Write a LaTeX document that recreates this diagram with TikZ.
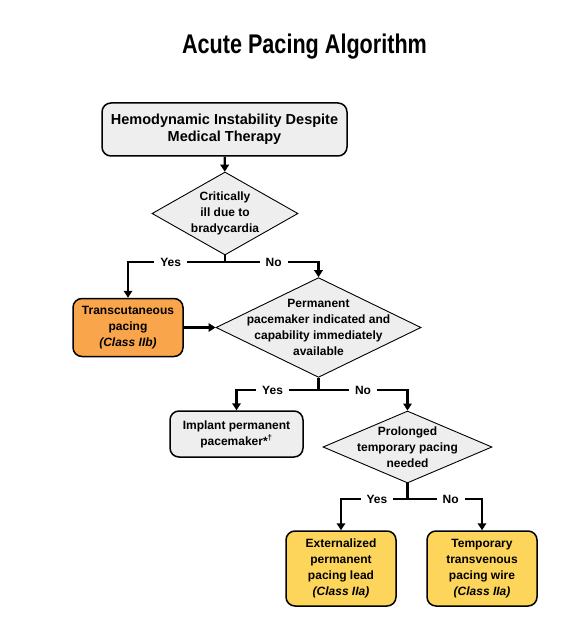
\documentclass[tikz,border=0pt]{standalone}
\usepackage{fontspec}
\setmainfont{Liberation Sans}
\newfontfamily\titlefont[FakeStretch=0.8]{Liberation Sans}
\usetikzlibrary{shapes.geometric,arrows.meta}
\definecolor{boxgray}{HTML}{EEEEEE}
\definecolor{paceorange}{HTML}{F9A54B}
\definecolor{paceyellow}{HTML}{FDD55A}

\begin{document}
\begin{tikzpicture}[x=1pt,y=-1pt,
  box/.style={draw, line width=1.5pt, rounded corners=9pt, align=center, inner sep=2pt,
    font=\bfseries\fontsize{12}{16}\selectfont},
  choice/.style={draw, diamond, line width=0.9pt, fill=boxgray, inner sep=-25pt, align=center,
    font=\bfseries\fontsize{12}{16}\selectfont},
  link/.style={line width=2.3pt, -{Triangle[length=7pt,width=8.5pt]}},
  split/.style={line width=2.3pt},
  lbl/.style={fill=white, inner xsep=6pt, inner ysep=1pt, font=\bfseries\fontsize{12}{14}\selectfont}]
  \useasboundingbox (0,0) rectangle (562,631);

  \node[font=\titlefont\bfseries\fontsize{27}{30}\selectfont] (title) at (304.5,47) {Acute Pacing Algorithm};

  \node[box, fill=boxgray, minimum width=245pt, minimum height=53pt,
    font=\bfseries\fontsize{14.5}{17}\selectfont] (start) at (224.5,129.5) {Hemodynamic Instability Despite\\Medical Therapy};
  \node[choice, minimum width=146pt, minimum height=83pt] (ill) at (225,213.5) {Critically\\ill due to\\bradycardia};
  \node[box, fill=paceorange, minimum width=110pt, minimum height=58pt] (trans) at (128,327.5) {Transcutaneous\\pacing\\\textit{(Class IIb)}};
  \node[choice, minimum width=205pt, minimum height=94pt] (perm) at (318.5,327.5) {Permanent\\pacemaker indicated and\\capability immediately\\available};
  \node[box, fill=boxgray, minimum width=133pt, minimum height=46pt] (implant) at (236.5,434) {Implant permanent\\pacemaker*\textsuperscript{†}};
  \node[choice, minimum width=169pt, minimum height=72pt] (prolong) at (407.5,447) {Prolonged\\temporary pacing\\needed};
  \node[box, fill=paceyellow, minimum width=110pt, minimum height=75pt] (extern) at (341,568.5) {Externalized\\permanent\\pacing lead\\\textit{(Class IIa)}};
  \node[box, fill=paceyellow, minimum width=110pt, minimum height=75pt] (tempwire) at (482,568.5) {Temporary\\transvenous\\pacing wire\\\textit{(Class IIa)}};

  \coordinate (j1) at (ill.south |- 0,262);
  \coordinate (j2) at (perm.south |- 0,390);
  \coordinate (j3) at (prolong.south |- 0,499);

  \draw[link] (start) -- (ill);

  \draw[split] (ill.south) -- (j1);
  \draw[link] (j1) -| node[lbl, pos=0.28] {Yes} (trans.north);
  \draw[link] (j1) -| node[lbl, pos=0.26] {No} (perm.north);
  \draw[link] (trans.east) -- (perm.west);

  \draw[split] (perm.south) -- (j2);
  \draw[link] (j2) -| node[lbl, pos=0.28] {Yes} (implant.north);
  \draw[link] (j2) -| node[lbl, pos=0.25] {No} (prolong.north);

  \draw[split] (prolong.south) -- (j3);
  \draw[link] (j3) -| node[lbl, pos=0.23] {Yes} (extern.north);
  \draw[link] (j3) -| node[lbl, pos=0.29] {No} (tempwire.north);
\end{tikzpicture}
\end{document}
